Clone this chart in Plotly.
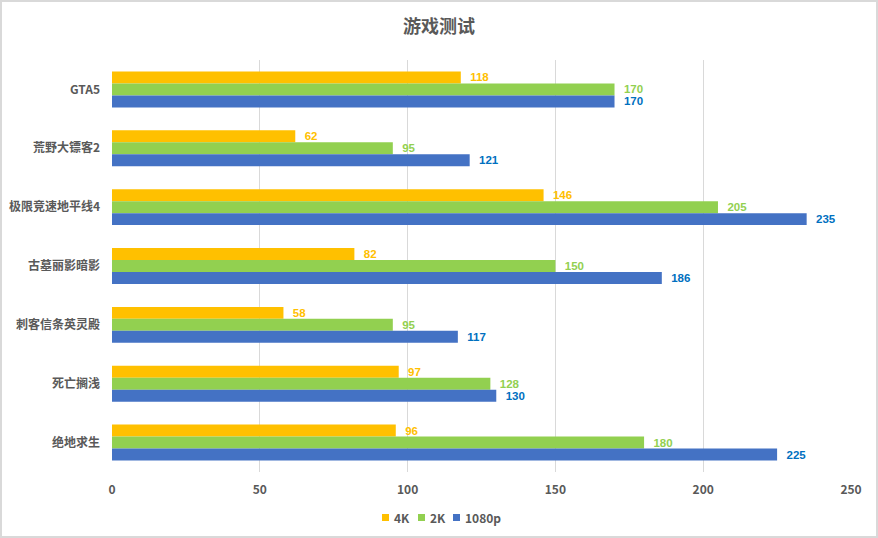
import plotly.graph_objects as go

categories = ["GTA5", "荒野大镖客2", "极限竞速地平线4", "古墓丽影暗影", "刺客信条英灵殿", "死亡搁浅", "绝地求生"]
series_names = ["4K", "2K", "1080p"]
v_4k = [118, 62, 146, 82, 58, 97, 96]
v_2k = [170, 95, 205, 150, 95, 128, 180]
v_1080 = [170, 121, 235, 186, 117, 130, 225]
x_ticks = [0, 50, 100, 150, 200, 250]

bar_colors = ["#FFC000", "#92D050", "#4472C4"]
text_colors = ["#FFC000", "#92D050", "#0070C0"]
font = "Noto Sans CJK SC, Microsoft YaHei, sans-serif"
num_font = "Liberation Sans, Arial, sans-serif"

W, H = 878, 538
L, R, T, B = 112, 27, 60, 66
PW, PH = W - L - R, H - T - B

def px2x(px):
    return (px - L) / PW

def px2y(py):
    return (H - B - py) / PH

fig = go.Figure()
for name, vals, bc, tc in zip(series_names, [v_4k, v_2k, v_1080], bar_colors, text_colors):
    fig.add_trace(go.Bar(
        y=categories, x=vals, name=name, orientation="h",
        marker=dict(color=bc, line=dict(width=0)),
        text=vals, texttemplate="\u00a0\u00a0%{x}",
        textposition="outside", cliponaxis=False, constraintext="none",
        textfont=dict(color=tc, size=11.5, family=num_font, weight="bold"),
        showlegend=False,
    ))

fig.update_layout(
    width=W, height=H,
    margin=dict(l=L, r=R, t=T, b=B, autoexpand=False),
    paper_bgcolor="white", plot_bgcolor="white",
    barmode="group", bargap=0.39, bargroupgap=0,
    title=dict(text="<b>游戏测试</b>", x=0.5, xanchor="center", y=1 - 27 / H, yanchor="middle",
               font=dict(size=18, color="#595959", family=font)),
    font=dict(family=font, color="#595959"),
    xaxis=dict(range=[0, 250], tickvals=x_ticks, showgrid=True, gridcolor="#d9d9d9", gridwidth=1,
               zeroline=False, showline=False, ticks="", ticklabelstandoff=9, automargin=False,
               tickfont=dict(size=12, color="#595959", family=font, weight="bold")),
    yaxis=dict(autorange="reversed", showgrid=False, zeroline=False, showline=False,
               ticks="", ticklabelstandoff=11, automargin=False,
               tickfont=dict(size=12, color="#595959", family=font, weight="bold")),
    showlegend=False,
)

# manual legend (small squares + text)
legend_items = [(382, 392), (418, 428), (453, 463)]
for (sq_x, tx_x), name, bc in zip(legend_items, series_names, bar_colors):
    fig.add_shape(type="rect", xref="paper", yref="paper",
                  x0=px2x(sq_x), x1=px2x(sq_x + 7), y0=px2y(521), y1=px2y(514),
                  fillcolor=bc, line=dict(width=0))
    fig.add_annotation(text="<b>" + name + "</b>", xref="paper", yref="paper",
                       x=px2x(tx_x), y=px2y(517.5), xanchor="left", yanchor="middle",
                       showarrow=False, font=dict(size=12, color="#595959", family=font))

# border around full chart
fig.add_shape(type="rect", xref="paper", yref="paper",
              x0=px2x(1), x1=px2x(W - 1), y0=px2y(H - 1), y1=px2y(1),
              line=dict(color="#d9d9d9", width=2))

fig.write_html("out.html")
